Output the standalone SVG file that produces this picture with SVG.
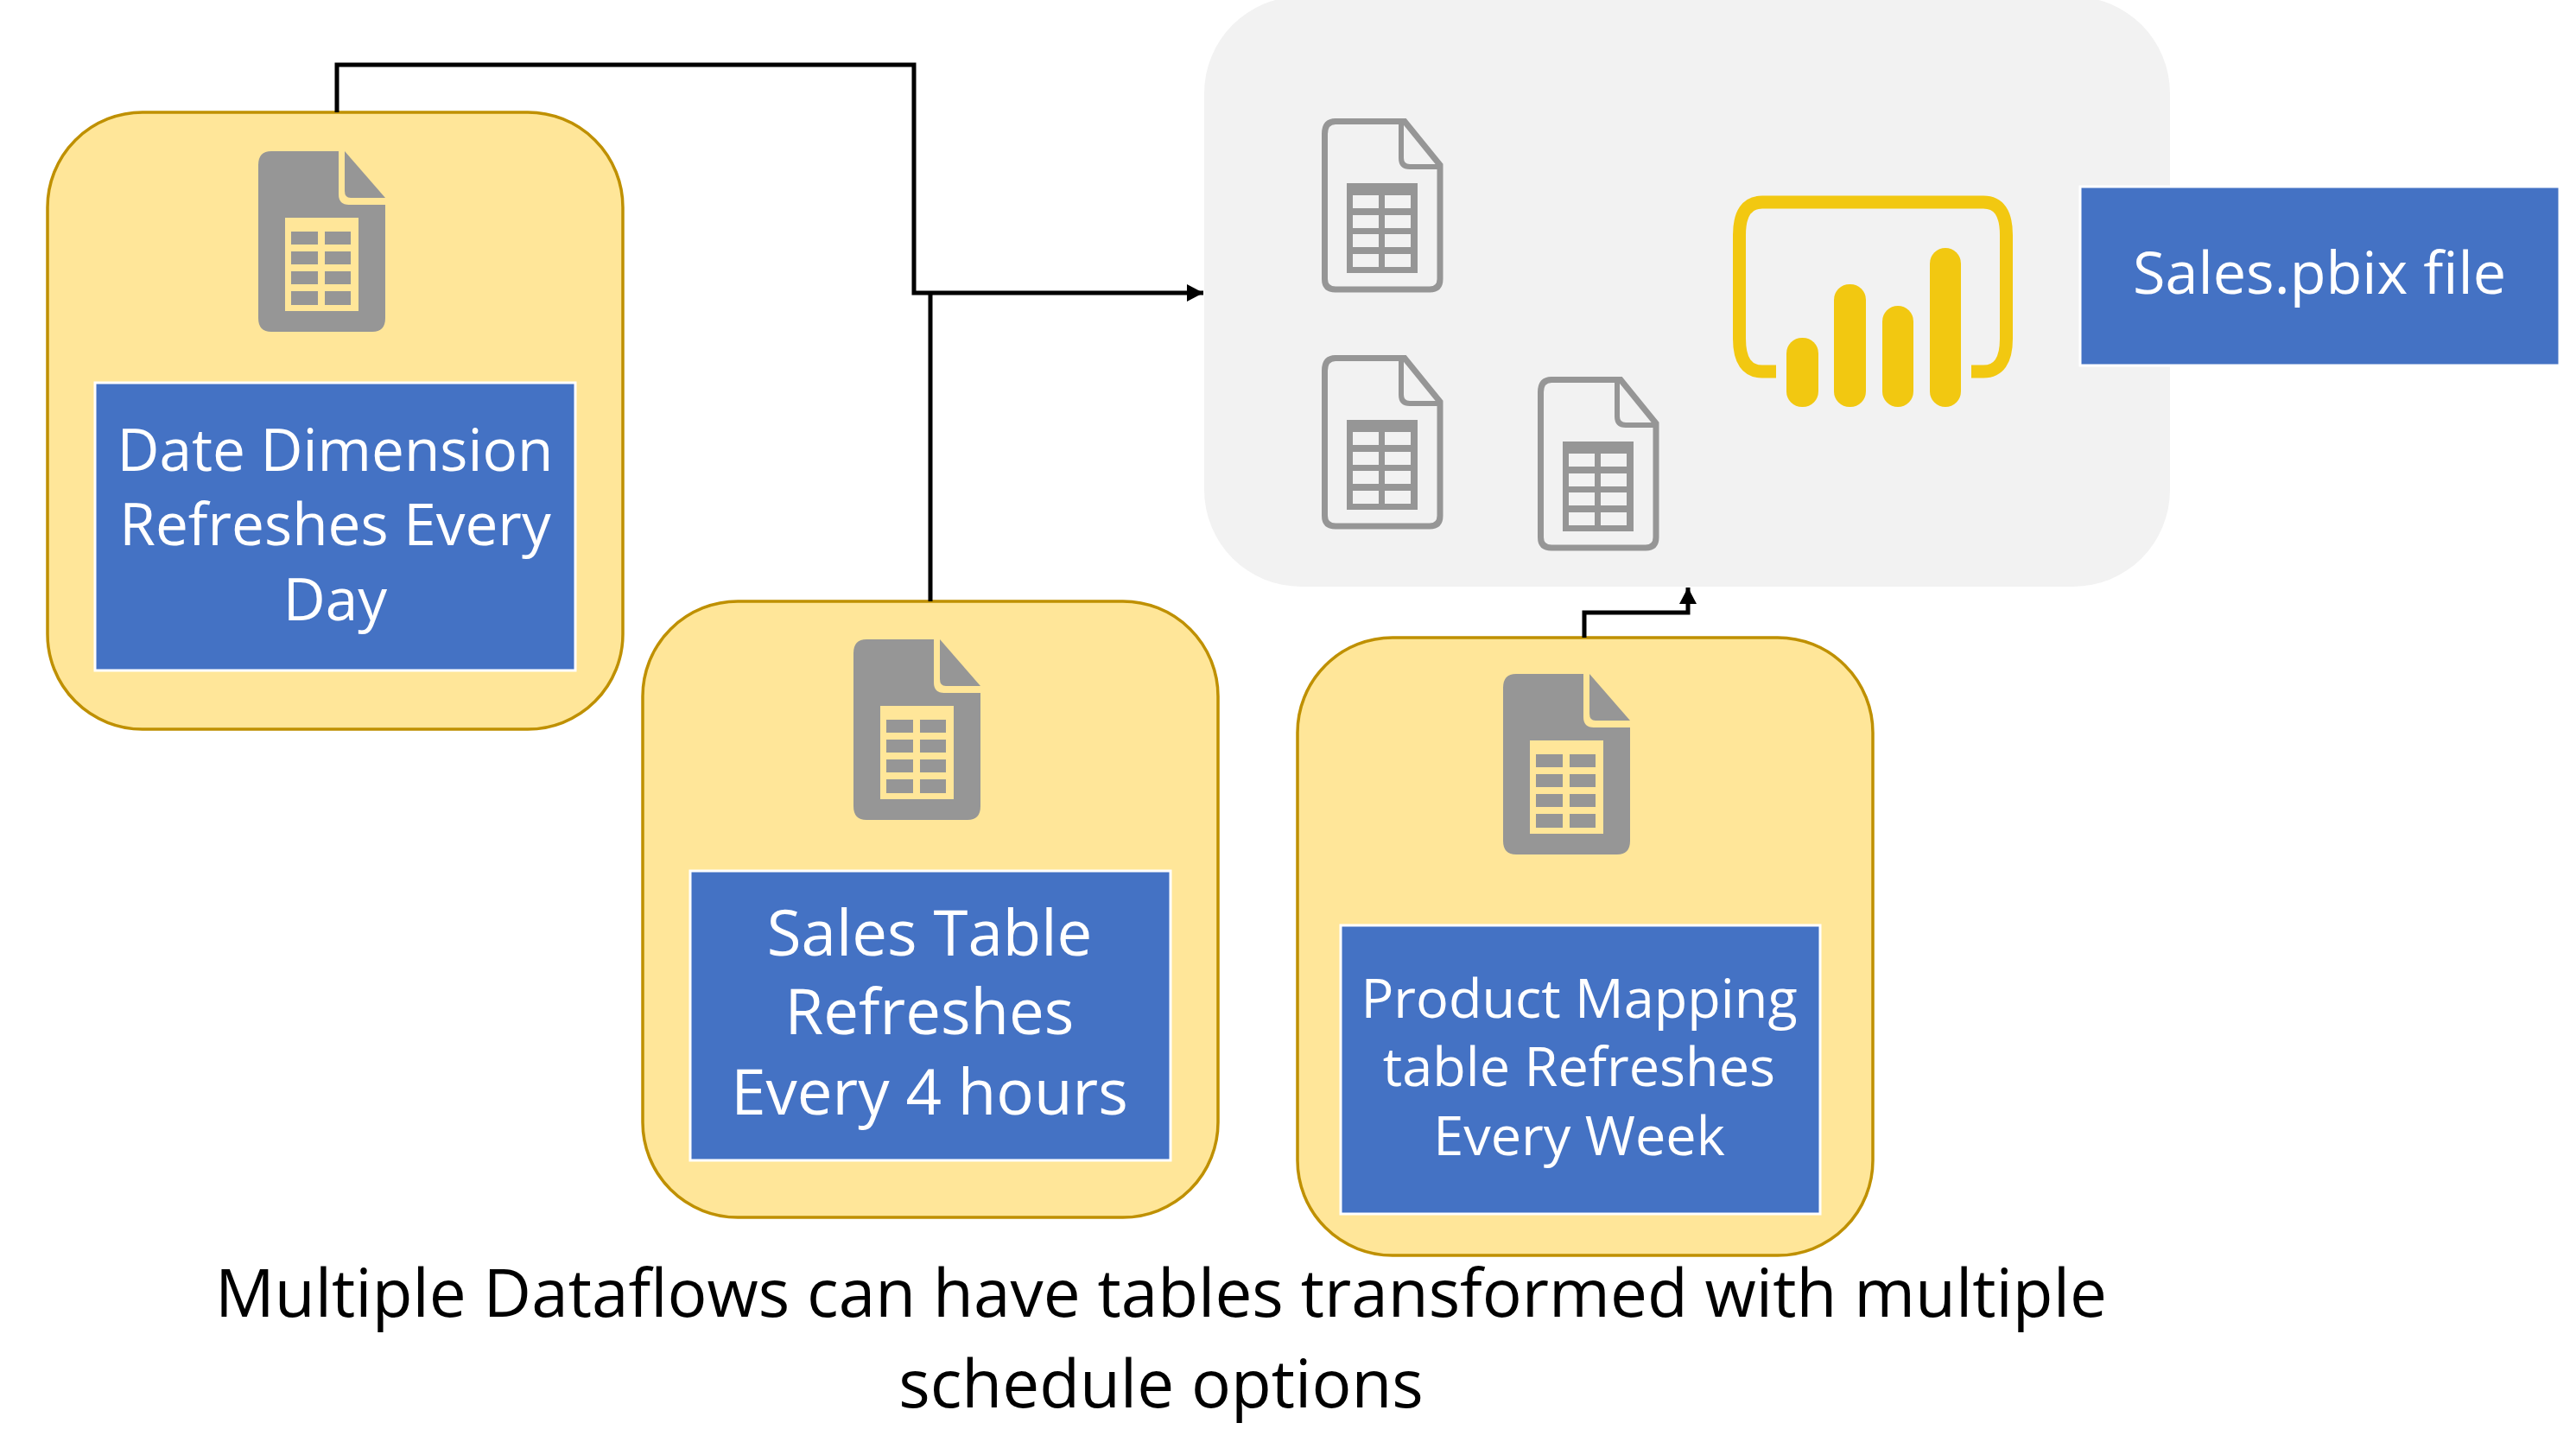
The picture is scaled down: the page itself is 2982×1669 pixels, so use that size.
<svg xmlns="http://www.w3.org/2000/svg" xmlns:xlink="http://www.w3.org/1999/xlink" width="2982" height="1669" viewBox="0 0 2982 1669">
<style>
.card{fill:#FFE699;stroke:#BF9000;stroke-width:3.5}
.blue{fill:#4472C4;stroke:#fff;stroke-width:3}
.t{font-family:"Open Sans","Noto Sans",sans-serif;fill:#fff;text-anchor:middle}
.cap{font-family:"Open Sans","Noto Sans",sans-serif;fill:#000;text-anchor:middle;font-size:76.500px}
.line{fill:none;stroke:#000;stroke-width:5;stroke-linejoin:miter}
.bar{fill:#F2C811}
</style>
<defs>
<marker id="ah" markerUnits="userSpaceOnUse" markerWidth="20" markerHeight="20" refX="19" refY="10" orient="auto"><path d="M0 0L19 10L0 20Z" fill="#000"/></marker>
<symbol id="docSolid" width="148" height="210" viewBox="0 0 148 210" overflow="visible">
<path fill="#969696" d="M15 0H93V50Q93 62 105 62H147V193Q147 209 132 209H15Q0 209 0 193V16Q0 0 15 0Z"/>
<path fill="#969696" d="M100 0L147 54H107Q100 54 100 46Z"/>
<rect x="31" y="77" width="85" height="108" fill="#FFE699"/>
<g fill="#969696">
<rect x="38" y="93" width="31" height="15"/><rect x="77" y="93" width="30" height="15"/>
<rect x="38" y="116" width="31" height="15"/><rect x="77" y="116" width="30" height="15"/>
<rect x="38" y="139" width="31" height="15"/><rect x="77" y="139" width="30" height="15"/>
<rect x="38" y="162" width="31" height="16"/><rect x="77" y="162" width="30" height="16"/>
</g>
</symbol>
<symbol id="docLine" width="142" height="206" viewBox="0 0 142 206" overflow="visible">
<path fill="none" stroke="#969696" stroke-width="7" d="M16 3.500H96L137 54V186Q137 198 125 198H16Q3.500 198 3.500 186V18Q3.500 3.500 16 3.500Z"/>
<path fill="none" stroke="#969696" stroke-width="6" d="M92 3.500V46Q92 56 102 56H137"/>
<rect x="29" y="75" width="82" height="104" fill="#969696"/>
<g fill="#F2F2F2">
<rect x="36" y="89" width="30" height="15"/><rect x="73" y="89" width="30" height="15"/>
<rect x="36" y="112" width="30" height="15"/><rect x="73" y="112" width="30" height="15"/>
<rect x="36" y="134" width="30" height="15"/><rect x="73" y="134" width="30" height="15"/>
<rect x="36" y="157" width="30" height="15"/><rect x="73" y="157" width="30" height="15"/>
</g>
</symbol>
</defs>
<rect width="2982" height="1669" fill="#fff"/>
<g id="dataset-panel">
<rect x="1394" y="-4" width="1118" height="683" rx="112" ry="112" fill="#F2F2F2"/>
<use xlink:href="#docLine" href="#docLine" x="1530" y="137"/>
<use xlink:href="#docLine" href="#docLine" x="1530" y="411"/>
<use xlink:href="#docLine" href="#docLine" x="1780" y="436"/>
<g id="powerbi-icon">
<path fill="none" stroke="#F2C811" stroke-width="15" d="M2056 430H2040Q2013.500 430 2013.500 392V272Q2013.500 234 2040 234H2296Q2322.500 234 2322.500 272V392Q2322.500 430 2296 430H2282"/>
<rect class="bar" x="2068" y="391" width="37" height="80" rx="18"/>
<rect class="bar" x="2123" y="329" width="37" height="142" rx="18"/>
<rect class="bar" x="2179" y="354" width="36" height="117" rx="18"/>
<rect class="bar" x="2234" y="287" width="36" height="184" rx="18"/>
</g>
</g>
<g id="sales-pbix">
<rect class="blue" x="2408" y="216" width="555" height="207"/>
<text class="t" x="2685" y="340" font-size="68.400">Sales.pbix file</text>
</g>
<g id="date-dimension">
<rect class="card" x="55" y="130" width="666" height="714" rx="110" ry="110"/>
<use xlink:href="#docSolid" href="#docSolid" x="299" y="175"/>
<rect class="blue" x="110" y="443" width="556" height="333"/>
<text class="t" font-size="67.500"><tspan x="388" y="545">Date Dimension</tspan><tspan x="388" y="631">Refreshes Every</tspan><tspan x="388" y="718">Day</tspan></text>
</g>
<g id="sales-table">
<rect class="card" x="744" y="696" width="666" height="713" rx="110" ry="110"/>
<use xlink:href="#docSolid" href="#docSolid" x="988" y="740"/>
<rect class="blue" x="799" y="1008" width="556" height="335"/>
<text class="t" font-size="72.600"><tspan x="1076" y="1106">Sales Table</tspan><tspan x="1076" y="1197">Refreshes</tspan><tspan x="1076" y="1290">Every 4 hours</tspan></text>
</g>
<g id="product-mapping">
<rect class="card" x="1502" y="738" width="666" height="715" rx="110" ry="110"/>
<use xlink:href="#docSolid" href="#docSolid" x="1740" y="780"/>
<rect class="blue" x="1552" y="1071" width="555" height="334"/>
<text class="t" font-size="63"><tspan x="1828" y="1178">Product Mapping</tspan><tspan x="1828" y="1257">table Refreshes</tspan><tspan x="1828" y="1337">Every Week</tspan></text>
</g>
<g id="connectors">
<path class="line" d="M390 130V75H1058V339H1393" marker-end="url(#ah)"/>
<path class="line" d="M1077 696V339"/>
<path class="line" d="M1834 738V709H1954V680" marker-end="url(#ah)"/>
</g>
<g id="caption">
<text class="cap"><tspan x="1344" y="1524">Multiple Dataflows can have tables transformed with multiple</tspan><tspan x="1344" y="1629">schedule options</tspan></text>
</g>
</svg>
